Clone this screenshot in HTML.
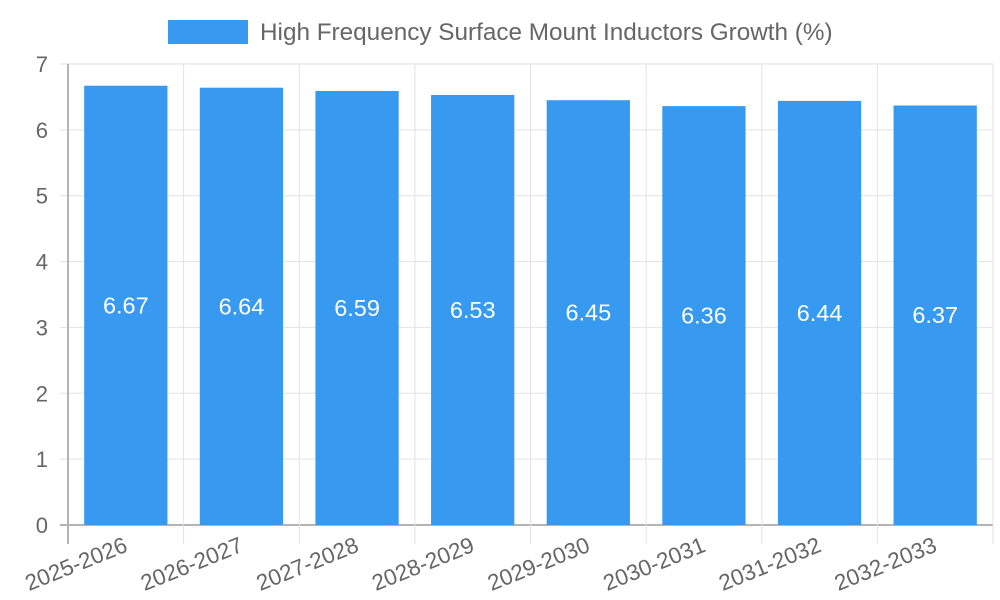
<!DOCTYPE html>
<html><head><meta charset="utf-8"><style>
body{margin:0;background:#fff}
svg{display:block;font-family:"Liberation Sans",sans-serif}
</style></head><body>
<svg id="c" width="1000" height="600">
<g>
<rect x="168" y="20" width="80" height="24" fill="#3799ef"/>
<text x="260" y="40" font-size="24.3" fill="#666">High Frequency Surface Mount Inductors Growth (%)</text>
</g>
<g id="grid"></g><g id="bars"></g><g id="axes"></g>
</svg>
<script>
const categories=["2025-2026","2026-2027","2027-2028","2028-2029","2029-2030","2030-2031","2031-2032","2032-2033"];
const values=[6.67,6.64,6.59,6.53,6.45,6.36,6.44,6.37];
const yTicks=[0,1,2,3,4,5,6,7];
const NS="http://www.w3.org/2000/svg";
const L=68,R=993,T=64,B=525,yMax=7;
const cw=(R-L)/categories.length;
const y=v=>B-(v/yMax)*(B-T);
const x=i=>L+i*cw;
function mk(p,tag,a,txt){const e=document.createElementNS(NS,tag);for(const k in a)e.setAttribute(k,a[k]);if(txt!==undefined)e.textContent=txt;document.getElementById(p).appendChild(e);return e;}
yTicks.forEach(t=>{
 const g=mk('grid','line',{x1:L-8,x2:R,y1:y(t),y2:y(t),stroke:t===0?'#b4b4b4':'#e2e2e2','stroke-width':t===0?2:1});
 
 
 const l=mk('axes','text',{x:L-20,y:y(t)+8,'text-anchor':'end','font-size':22,fill:'#666'},String(t));
 
 
});
for(let i=0;i<=categories.length;i++){
 const g=mk('grid','line',{x1:x(i),x2:x(i),y1:T,y2:B+19,stroke:i===0?'#b4b4b4':'#e2e2e2','stroke-width':i===0?2:1});
 
 
}
categories.forEach((c,i)=>{
 const bw=cw*0.72,bx=x(i)+(cw-bw)/2;
 const r=mk('bars','rect',{x:bx,y:y(values[i]),width:bw,height:B-y(values[i]),fill:'#3799ef'});
 
 
 const v=mk('bars','text',{x:x(i)+cw/2,y:(y(values[i])+B)/2+8,'text-anchor':'middle','font-size':23.5,fill:'#fff'},values[i].toFixed(2));
 
 
 const cx=x(i)+cw/2-3,cy=536;
 const t=mk('axes','text',{x:cx,y:cy+16,'text-anchor':'end','font-size':22.5,fill:'#666',transform:`rotate(-22 ${cx} ${cy})`},c);
 
 
});
</script>
</body></html>
